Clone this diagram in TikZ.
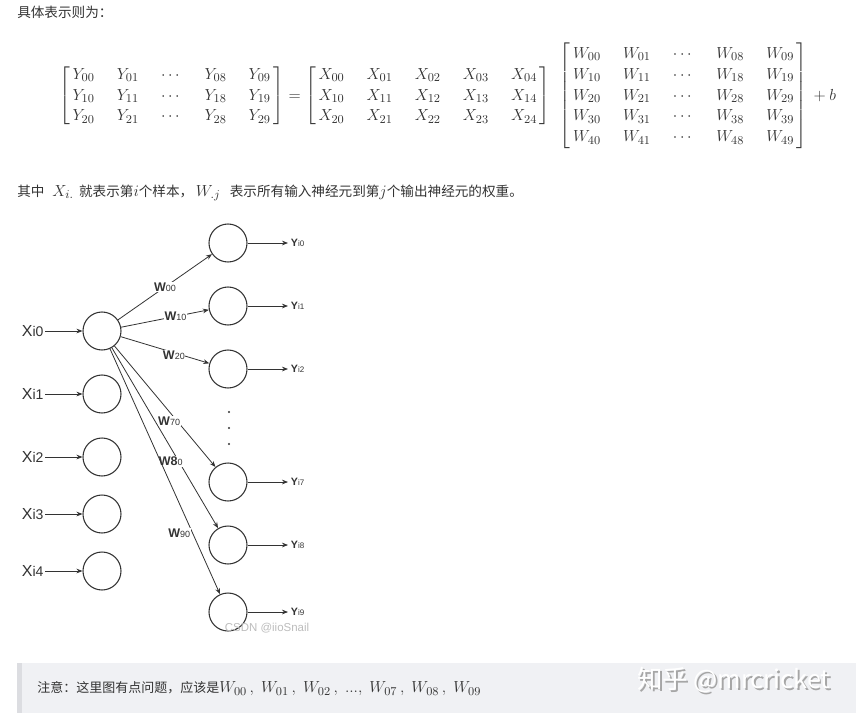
\documentclass[tikz,border=0pt]{standalone}
\usepackage{amsmath}
\usepackage{fontspec}
\setsansfont{Liberation Sans}
\newfontfamily\zhfont{Noto Sans CJK SC}
\usetikzlibrary{arrows.meta}

\definecolor{txt}{HTML}{333333}
\definecolor{boxbg}{HTML}{F0F1F4}
\definecolor{boxbar}{HTML}{DCDDE1}
\definecolor{wmark}{HTML}{BDBDBD}

\newcommand\mth[1]{{\fontsize{12.5}{15}\selectfont$#1$}}
\newcommand\wlab[2]{{\bfseries #1}{\fontsize{6.75}{8}\selectfont #2}}
\newcommand\bmat[1]{\left[\mkern3mu\begin{matrix}#1\end{matrix}\mkern3mu\right]}

\begin{document}
\begin{tikzpicture}[
        x=0.75pt, y=-0.75pt,
        neuron/.style={circle, draw=txt, line width=0.8pt, minimum size=28.5pt, inner sep=0pt},
        conn/.style={draw=txt, line width=0.6pt, -{Stealth[length=4.5pt, width=3.5pt]}},
        wlabel/.style={fill=white, inner sep=0.5pt, text=txt, font=\sffamily\fontsize{9.4}{11}\selectfont},
        xlabel/.style={inner sep=1pt, text=txt, font=\sffamily\fontsize{12}{14}\selectfont},
        ylabel/.style={inner sep=2pt, text=txt, font=\sffamily\fontsize{8}{10}\selectfont},
        zh/.style={inner sep=0pt, text=txt, font=\zhfont\fontsize{10.2}{12}\selectfont},
    ]
    \useasboundingbox[fill=white] (0, 0) rectangle (856, 715);

    \node[zh, anchor=west] (head) at (17, 12) {具体表示则为：};

    \node[anchor=west, inner sep=0pt, text=txt, font=\fontsize{13}{15.6}\selectfont] (eq) at (59, 96) {%
        $\setlength{\arraycolsep}{8.3pt}
        \bmat{
            Y_{00} & Y_{01} & \cdots & Y_{08} & Y_{09} \\
            Y_{10} & Y_{11} & \cdots & Y_{18} & Y_{19} \\
            Y_{20} & Y_{21} & \cdots & Y_{28} & Y_{29}
        }
        =
        \bmat{
            X_{00} & X_{01} & X_{02} & X_{03} & X_{04} \\
            X_{10} & X_{11} & X_{12} & X_{13} & X_{14} \\
            X_{20} & X_{21} & X_{22} & X_{23} & X_{24}
        }
        \hspace{5pt}
        \bmat{
            W_{00} & W_{01} & \cdots & W_{08} & W_{09} \\
            W_{10} & W_{11} & \cdots & W_{18} & W_{19} \\
            W_{20} & W_{21} & \cdots & W_{28} & W_{29} \\
            W_{30} & W_{31} & \cdots & W_{38} & W_{39} \\
            W_{40} & W_{41} & \cdots & W_{48} & W_{49}
        }
        \hspace{2pt}+ b$};

    \node[zh, anchor=west] (note) at (17, 193)
        {其中\hspace{6pt}\mth{X_{i.}}\hspace{4pt}就表示第\mth{i}个样本，\hspace{2pt}\mth{W_{.j}}\hspace{7pt}表示所有输入神经元到第\mth{j}个输出神经元的权重。};

    % input layer
    \foreach \i/\y in {0/331, 1/394, 2/457, 3/514, 4/571} {
        \node[neuron] (in\i) at (102, \y) {};
        \node[xlabel, anchor=east] (x\i) at (45, \y) {X{\fontsize{10.5}{12}\selectfont i\i}};
        \draw[conn] (x\i) -- (in\i);
    }

    % output layer
    \foreach \j/\y in {0/243, 1/306, 2/369, 7/482, 8/545, 9/612} {
        \node[neuron] (out\j) at (228, \y) {};
        \node[ylabel, anchor=west] (y\j) at (288, \y) {{\bfseries Y}{\fontsize{6}{7}\selectfont i\j}};
        \draw[conn] (out\j) -- (y\j);
    }

    \foreach \y in {412, 428, 444}
        \fill[txt] (229, \y) circle (0.9pt);

    \draw[conn] (in0) -- (out0) node[wlabel, pos=0.5] {\wlab{W}{00}};
    \draw[conn] (in0) -- (out1) node[wlabel, pos=0.62] {\wlab{W}{10}};
    \draw[conn] (in0) -- (out2) node[wlabel, pos=0.6, yshift=-2pt] {\wlab{W}{20}};
    \draw[conn] (in0) -- (out7) node[wlabel, pos=0.62, xshift=-6pt] {\wlab{W}{70}};
    \draw[conn] (in0) -- (out8) node[wlabel, pos=0.63, xshift=-6pt] {\wlab{W8}{0}};
    \draw[conn] (in0) -- (out9) node[wlabel, pos=0.75, xshift=-10pt] {\wlab{W}{90}};

    \node[text=wmark, inner sep=0pt, font=\sffamily\fontsize{8.6}{10}\selectfont] (csdn) at (267, 628) {CSDN @iioSnail};

    % note box
    \fill[boxbg] (17, 663) rectangle (856, 713);
    \fill[boxbar] (17, 663) rectangle (22, 713);
    \node[zh, anchor=west, font=\zhfont\fontsize{9.75}{12}\selectfont] (warn) at (37, 689)
        {注意：这里图有点问题，应该是\mth{W_{00}\,,\;W_{01}\,,\;W_{02}\,,\;...,\;W_{07}\,,\;W_{08}\,,\;W_{09}}};
    \node[inner sep=0pt, text=gray!70, font=\zhfont\fontsize{19}{21}\selectfont] (zhshade) at (735.8, 681.8) {知乎 @mrcricket};
    \node[inner sep=0pt, text=white, font=\zhfont\fontsize{19}{21}\selectfont] (zhihu) at (734, 680) {知乎 @mrcricket};
\end{tikzpicture}
\end{document}
